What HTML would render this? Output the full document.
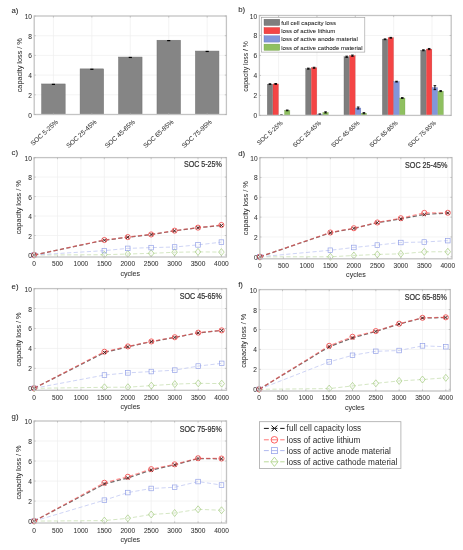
<!DOCTYPE html>
<html><head><meta charset="utf-8"><title>Capacity loss figure</title>
<style>html,body{margin:0;padding:0;background:#fff;width:463px;height:550px;overflow:hidden;}svg text{font-family:"Liberation Sans", sans-serif;stroke:currentColor;stroke-width:0.05px;}</style>
</head><body>
<svg width="463" height="550" viewBox="0 0 463 550" font-family='"Liberation Sans", sans-serif' style="display:block;filter:blur(0.3px)">
<rect width="463" height="550" fill="#ffffff"/>
<line x1="53.42" y1="16" x2="53.42" y2="114.5" stroke="#efefef" stroke-width="0.7"/>
<line x1="91.86" y1="16" x2="91.86" y2="114.5" stroke="#efefef" stroke-width="0.7"/>
<line x1="130.3" y1="16" x2="130.3" y2="114.5" stroke="#efefef" stroke-width="0.7"/>
<line x1="168.74" y1="16" x2="168.74" y2="114.5" stroke="#efefef" stroke-width="0.7"/>
<line x1="207.18" y1="16" x2="207.18" y2="114.5" stroke="#efefef" stroke-width="0.7"/>
<line x1="34.2" y1="94.8" x2="226.4" y2="94.8" stroke="#efefef" stroke-width="0.7"/>
<line x1="34.2" y1="75.1" x2="226.4" y2="75.1" stroke="#efefef" stroke-width="0.7"/>
<line x1="34.2" y1="55.4" x2="226.4" y2="55.4" stroke="#efefef" stroke-width="0.7"/>
<line x1="34.2" y1="35.7" x2="226.4" y2="35.7" stroke="#efefef" stroke-width="0.7"/>
<rect x="41.67" y="83.97" width="23.5" height="30.53" fill="#858585" stroke="#6e6e6e" stroke-width="0.5"/>
<line x1="51.82" y1="84.37" x2="55.02" y2="84.37" stroke="#000" stroke-width="1.2"/>
<rect x="80.11" y="68.89" width="23.5" height="45.61" fill="#858585" stroke="#6e6e6e" stroke-width="0.5"/>
<line x1="90.26" y1="69.29" x2="93.46" y2="69.29" stroke="#000" stroke-width="1.2"/>
<rect x="118.55" y="57.07" width="23.5" height="57.43" fill="#858585" stroke="#6e6e6e" stroke-width="0.5"/>
<line x1="128.7" y1="57.47" x2="131.9" y2="57.47" stroke="#000" stroke-width="1.2"/>
<rect x="156.99" y="40.23" width="23.5" height="74.27" fill="#858585" stroke="#6e6e6e" stroke-width="0.5"/>
<line x1="167.14" y1="40.63" x2="170.34" y2="40.63" stroke="#000" stroke-width="1.2"/>
<rect x="195.43" y="51.07" width="23.5" height="63.43" fill="#858585" stroke="#6e6e6e" stroke-width="0.5"/>
<line x1="205.58" y1="51.47" x2="208.78" y2="51.47" stroke="#000" stroke-width="1.2"/>
<rect x="34.2" y="16" width="192.2" height="98.5" fill="none" stroke="#c4c4c4" stroke-width="1.3"/>
<line x1="53.42" y1="114.5" x2="53.42" y2="112.9" stroke="#aaaaaa" stroke-width="0.6"/>
<line x1="53.42" y1="16" x2="53.42" y2="17.6" stroke="#aaaaaa" stroke-width="0.6"/>
<line x1="91.86" y1="114.5" x2="91.86" y2="112.9" stroke="#aaaaaa" stroke-width="0.6"/>
<line x1="91.86" y1="16" x2="91.86" y2="17.6" stroke="#aaaaaa" stroke-width="0.6"/>
<line x1="130.3" y1="114.5" x2="130.3" y2="112.9" stroke="#aaaaaa" stroke-width="0.6"/>
<line x1="130.3" y1="16" x2="130.3" y2="17.6" stroke="#aaaaaa" stroke-width="0.6"/>
<line x1="168.74" y1="114.5" x2="168.74" y2="112.9" stroke="#aaaaaa" stroke-width="0.6"/>
<line x1="168.74" y1="16" x2="168.74" y2="17.6" stroke="#aaaaaa" stroke-width="0.6"/>
<line x1="207.18" y1="114.5" x2="207.18" y2="112.9" stroke="#aaaaaa" stroke-width="0.6"/>
<line x1="207.18" y1="16" x2="207.18" y2="17.6" stroke="#aaaaaa" stroke-width="0.6"/>
<line x1="34.2" y1="114.5" x2="35.8" y2="114.5" stroke="#aaaaaa" stroke-width="0.6"/>
<line x1="226.4" y1="114.5" x2="224.8" y2="114.5" stroke="#aaaaaa" stroke-width="0.6"/>
<line x1="34.2" y1="94.8" x2="35.8" y2="94.8" stroke="#aaaaaa" stroke-width="0.6"/>
<line x1="226.4" y1="94.8" x2="224.8" y2="94.8" stroke="#aaaaaa" stroke-width="0.6"/>
<line x1="34.2" y1="75.1" x2="35.8" y2="75.1" stroke="#aaaaaa" stroke-width="0.6"/>
<line x1="226.4" y1="75.1" x2="224.8" y2="75.1" stroke="#aaaaaa" stroke-width="0.6"/>
<line x1="34.2" y1="55.4" x2="35.8" y2="55.4" stroke="#aaaaaa" stroke-width="0.6"/>
<line x1="226.4" y1="55.4" x2="224.8" y2="55.4" stroke="#aaaaaa" stroke-width="0.6"/>
<line x1="34.2" y1="35.7" x2="35.8" y2="35.7" stroke="#aaaaaa" stroke-width="0.6"/>
<line x1="226.4" y1="35.7" x2="224.8" y2="35.7" stroke="#aaaaaa" stroke-width="0.6"/>
<line x1="34.2" y1="16" x2="35.8" y2="16" stroke="#aaaaaa" stroke-width="0.6"/>
<line x1="226.4" y1="16" x2="224.8" y2="16" stroke="#aaaaaa" stroke-width="0.6"/>
<text x="32" y="117.5" font-size="6.6" text-anchor="end" fill="#333333" color="#333333">0</text>
<text x="32" y="97.8" font-size="6.6" text-anchor="end" fill="#333333" color="#333333">2</text>
<text x="32" y="78.1" font-size="6.6" text-anchor="end" fill="#333333" color="#333333">4</text>
<text x="32" y="58.4" font-size="6.6" text-anchor="end" fill="#333333" color="#333333">6</text>
<text x="32" y="38.7" font-size="6.6" text-anchor="end" fill="#333333" color="#333333">8</text>
<text x="32" y="19" font-size="6.6" text-anchor="end" fill="#333333" color="#333333">10</text>
<text x="0" y="0" transform="translate(58.62,122.5) rotate(-42.5)" font-size="6.5" text-anchor="end" fill="#333333" color="#333333">SOC 5-25%</text>
<text x="0" y="0" transform="translate(97.06,122.5) rotate(-42.5)" font-size="6.5" text-anchor="end" fill="#333333" color="#333333">SOC 25-45%</text>
<text x="0" y="0" transform="translate(135.5,122.5) rotate(-42.5)" font-size="6.5" text-anchor="end" fill="#333333" color="#333333">SOC 45-65%</text>
<text x="0" y="0" transform="translate(173.94,122.5) rotate(-42.5)" font-size="6.5" text-anchor="end" fill="#333333" color="#333333">SOC 65-85%</text>
<text x="0" y="0" transform="translate(212.38,122.5) rotate(-42.5)" font-size="6.5" text-anchor="end" fill="#333333" color="#333333">SOC 75-95%</text>
<text x="0" y="0" transform="translate(21.9,65.25) rotate(-90)" font-size="7.25" text-anchor="middle" fill="#333333" color="#333333">capacity loss / %</text>
<text x="11.4" y="13" font-size="7.8" fill="#222" color="#222">a)</text>
<line x1="278.58" y1="15.5" x2="278.58" y2="115.4" stroke="#efefef" stroke-width="0.7"/>
<line x1="316.94" y1="15.5" x2="316.94" y2="115.4" stroke="#efefef" stroke-width="0.7"/>
<line x1="355.3" y1="15.5" x2="355.3" y2="115.4" stroke="#efefef" stroke-width="0.7"/>
<line x1="393.66" y1="15.5" x2="393.66" y2="115.4" stroke="#efefef" stroke-width="0.7"/>
<line x1="432.02" y1="15.5" x2="432.02" y2="115.4" stroke="#efefef" stroke-width="0.7"/>
<line x1="259.4" y1="95.42" x2="451.2" y2="95.42" stroke="#efefef" stroke-width="0.7"/>
<line x1="259.4" y1="75.44" x2="451.2" y2="75.44" stroke="#efefef" stroke-width="0.7"/>
<line x1="259.4" y1="55.46" x2="451.2" y2="55.46" stroke="#efefef" stroke-width="0.7"/>
<line x1="259.4" y1="35.48" x2="451.2" y2="35.48" stroke="#efefef" stroke-width="0.7"/>
<rect x="267.26" y="84.13" width="5.39" height="31.27" fill="#7e7e7e" stroke="#606060" stroke-width="0.3"/>
<rect x="273.01" y="83.93" width="5.39" height="31.47" fill="#f44545" stroke="#c83030" stroke-width="0.3"/>
<rect x="278.76" y="115.2" width="5.39" height="0.2" fill="#8396da" stroke="#5a6ab0" stroke-width="0.3"/>
<rect x="284.51" y="110.41" width="5.39" height="5" fill="#8fc060" stroke="#6f9a45" stroke-width="0.3"/>
<path d="M269.95,83.73V84.53M268.65,83.73H271.25M268.65,84.53H271.25" stroke="#000" stroke-width="0.9" fill="none"/>
<path d="M275.7,83.53V84.33M274.4,83.53H277M274.4,84.33H277" stroke="#000" stroke-width="0.9" fill="none"/>
<path d="M281.45,114.9V115.5M280.15,114.9H282.75M280.15,115.5H282.75" stroke="#000" stroke-width="0.9" fill="none"/>
<path d="M287.2,110.01V110.8M285.9,110.01H288.5M285.9,110.8H288.5" stroke="#000" stroke-width="0.9" fill="none"/>
<rect x="305.62" y="68.65" width="5.39" height="46.75" fill="#7e7e7e" stroke="#606060" stroke-width="0.3"/>
<rect x="311.37" y="67.75" width="5.39" height="47.65" fill="#f44545" stroke="#c83030" stroke-width="0.3"/>
<rect x="317.12" y="114.4" width="5.39" height="1" fill="#8396da" stroke="#5a6ab0" stroke-width="0.3"/>
<rect x="322.87" y="112.4" width="5.39" height="3" fill="#8fc060" stroke="#6f9a45" stroke-width="0.3"/>
<path d="M308.31,68.15V69.15M307.01,68.15H309.62M307.01,69.15H309.62" stroke="#000" stroke-width="0.9" fill="none"/>
<path d="M314.06,67.25V68.25M312.76,67.25H315.37M312.76,68.25H315.37" stroke="#000" stroke-width="0.9" fill="none"/>
<path d="M319.81,113.9V114.9M318.51,113.9H321.12M318.51,114.9H321.12" stroke="#000" stroke-width="0.9" fill="none"/>
<path d="M325.56,111.8V113M324.26,111.8H326.87M324.26,113H326.87" stroke="#000" stroke-width="0.9" fill="none"/>
<rect x="343.98" y="56.76" width="5.39" height="58.64" fill="#7e7e7e" stroke="#606060" stroke-width="0.3"/>
<rect x="349.73" y="55.66" width="5.39" height="59.74" fill="#f44545" stroke="#c83030" stroke-width="0.3"/>
<rect x="355.48" y="108.01" width="5.39" height="7.39" fill="#8396da" stroke="#5a6ab0" stroke-width="0.3"/>
<rect x="361.23" y="113.2" width="5.39" height="2.2" fill="#8fc060" stroke="#6f9a45" stroke-width="0.3"/>
<path d="M346.67,56.16V57.36M345.37,56.16H347.97M345.37,57.36H347.97" stroke="#000" stroke-width="0.9" fill="none"/>
<path d="M352.42,55.06V56.26M351.12,55.06H353.72M351.12,56.26H353.72" stroke="#000" stroke-width="0.9" fill="none"/>
<path d="M358.17,107.01V109.01M356.87,107.01H359.47M356.87,109.01H359.47" stroke="#000" stroke-width="0.9" fill="none"/>
<path d="M363.92,112.6V113.8M362.62,112.6H365.22M362.62,113.8H365.22" stroke="#000" stroke-width="0.9" fill="none"/>
<rect x="382.34" y="39.28" width="5.39" height="76.12" fill="#7e7e7e" stroke="#606060" stroke-width="0.3"/>
<rect x="388.09" y="37.78" width="5.39" height="77.62" fill="#f44545" stroke="#c83030" stroke-width="0.3"/>
<rect x="393.84" y="81.63" width="5.39" height="33.77" fill="#8396da" stroke="#5a6ab0" stroke-width="0.3"/>
<rect x="399.59" y="98.02" width="5.39" height="17.38" fill="#8fc060" stroke="#6f9a45" stroke-width="0.3"/>
<path d="M385.03,38.88V39.68M383.73,38.88H386.33M383.73,39.68H386.33" stroke="#000" stroke-width="0.9" fill="none"/>
<path d="M390.78,37.38V38.18M389.48,37.38H392.08M389.48,38.18H392.08" stroke="#000" stroke-width="0.9" fill="none"/>
<path d="M396.53,81.23V82.03M395.23,81.23H397.83M395.23,82.03H397.83" stroke="#000" stroke-width="0.9" fill="none"/>
<path d="M402.28,97.62V98.42M400.98,97.62H403.58M400.98,98.42H403.58" stroke="#000" stroke-width="0.9" fill="none"/>
<rect x="420.7" y="50.27" width="5.39" height="65.13" fill="#7e7e7e" stroke="#606060" stroke-width="0.3"/>
<rect x="426.45" y="49.07" width="5.39" height="66.33" fill="#f44545" stroke="#c83030" stroke-width="0.3"/>
<rect x="432.2" y="87.63" width="5.39" height="27.77" fill="#8396da" stroke="#5a6ab0" stroke-width="0.3"/>
<rect x="437.95" y="91.12" width="5.39" height="24.28" fill="#8fc060" stroke="#6f9a45" stroke-width="0.3"/>
<path d="M423.39,49.77V50.76M422.09,49.77H424.69M422.09,50.76H424.69" stroke="#000" stroke-width="0.9" fill="none"/>
<path d="M429.14,48.47V49.67M427.84,48.47H430.44M427.84,49.67H430.44" stroke="#000" stroke-width="0.9" fill="none"/>
<path d="M434.89,85.63V89.63M433.59,85.63H436.19M433.59,89.63H436.19" stroke="#000" stroke-width="0.9" fill="none"/>
<path d="M440.64,90.62V91.62M439.34,90.62H441.94M439.34,91.62H441.94" stroke="#000" stroke-width="0.9" fill="none"/>
<rect x="259.4" y="15.5" width="191.8" height="99.9" fill="none" stroke="#c4c4c4" stroke-width="1.3"/>
<line x1="278.58" y1="115.4" x2="278.58" y2="113.8" stroke="#aaaaaa" stroke-width="0.6"/>
<line x1="278.58" y1="15.5" x2="278.58" y2="17.1" stroke="#aaaaaa" stroke-width="0.6"/>
<line x1="316.94" y1="115.4" x2="316.94" y2="113.8" stroke="#aaaaaa" stroke-width="0.6"/>
<line x1="316.94" y1="15.5" x2="316.94" y2="17.1" stroke="#aaaaaa" stroke-width="0.6"/>
<line x1="355.3" y1="115.4" x2="355.3" y2="113.8" stroke="#aaaaaa" stroke-width="0.6"/>
<line x1="355.3" y1="15.5" x2="355.3" y2="17.1" stroke="#aaaaaa" stroke-width="0.6"/>
<line x1="393.66" y1="115.4" x2="393.66" y2="113.8" stroke="#aaaaaa" stroke-width="0.6"/>
<line x1="393.66" y1="15.5" x2="393.66" y2="17.1" stroke="#aaaaaa" stroke-width="0.6"/>
<line x1="432.02" y1="115.4" x2="432.02" y2="113.8" stroke="#aaaaaa" stroke-width="0.6"/>
<line x1="432.02" y1="15.5" x2="432.02" y2="17.1" stroke="#aaaaaa" stroke-width="0.6"/>
<line x1="259.4" y1="115.4" x2="261" y2="115.4" stroke="#aaaaaa" stroke-width="0.6"/>
<line x1="451.2" y1="115.4" x2="449.6" y2="115.4" stroke="#aaaaaa" stroke-width="0.6"/>
<line x1="259.4" y1="95.42" x2="261" y2="95.42" stroke="#aaaaaa" stroke-width="0.6"/>
<line x1="451.2" y1="95.42" x2="449.6" y2="95.42" stroke="#aaaaaa" stroke-width="0.6"/>
<line x1="259.4" y1="75.44" x2="261" y2="75.44" stroke="#aaaaaa" stroke-width="0.6"/>
<line x1="451.2" y1="75.44" x2="449.6" y2="75.44" stroke="#aaaaaa" stroke-width="0.6"/>
<line x1="259.4" y1="55.46" x2="261" y2="55.46" stroke="#aaaaaa" stroke-width="0.6"/>
<line x1="451.2" y1="55.46" x2="449.6" y2="55.46" stroke="#aaaaaa" stroke-width="0.6"/>
<line x1="259.4" y1="35.48" x2="261" y2="35.48" stroke="#aaaaaa" stroke-width="0.6"/>
<line x1="451.2" y1="35.48" x2="449.6" y2="35.48" stroke="#aaaaaa" stroke-width="0.6"/>
<line x1="259.4" y1="15.5" x2="261" y2="15.5" stroke="#aaaaaa" stroke-width="0.6"/>
<line x1="451.2" y1="15.5" x2="449.6" y2="15.5" stroke="#aaaaaa" stroke-width="0.6"/>
<text x="257.2" y="118.4" font-size="6.6" text-anchor="end" fill="#333333" color="#333333">0</text>
<text x="257.2" y="98.42" font-size="6.6" text-anchor="end" fill="#333333" color="#333333">2</text>
<text x="257.2" y="78.44" font-size="6.6" text-anchor="end" fill="#333333" color="#333333">4</text>
<text x="257.2" y="58.46" font-size="6.6" text-anchor="end" fill="#333333" color="#333333">6</text>
<text x="257.2" y="38.48" font-size="6.6" text-anchor="end" fill="#333333" color="#333333">8</text>
<text x="257.2" y="18.5" font-size="6.6" text-anchor="end" fill="#333333" color="#333333">10</text>
<text x="0" y="0" transform="translate(283.18,123.4) rotate(-42.5)" font-size="6.1" text-anchor="end" fill="#333333" color="#333333">SOC 5-25%</text>
<text x="0" y="0" transform="translate(321.54,123.4) rotate(-42.5)" font-size="6.1" text-anchor="end" fill="#333333" color="#333333">SOC 25-45%</text>
<text x="0" y="0" transform="translate(359.9,123.4) rotate(-42.5)" font-size="6.1" text-anchor="end" fill="#333333" color="#333333">SOC 45-65%</text>
<text x="0" y="0" transform="translate(398.26,123.4) rotate(-42.5)" font-size="6.1" text-anchor="end" fill="#333333" color="#333333">SOC 65-85%</text>
<text x="0" y="0" transform="translate(436.62,123.4) rotate(-42.5)" font-size="6.1" text-anchor="end" fill="#333333" color="#333333">SOC 75-95%</text>
<text x="0" y="0" transform="translate(247.6,66.55) rotate(-90)" font-size="6.8" text-anchor="middle" fill="#333333" color="#333333">capacity loss / %</text>
<text x="238.2" y="12" font-size="7.8" fill="#222" color="#222">b)</text>
<rect x="261.4" y="17.5" width="103.4" height="34.6" fill="#fff" stroke="#9a9a9a" stroke-width="0.6"/>
<rect x="264" y="19.2" width="15.8" height="6.3" fill="#7e7e7e" stroke="#606060" stroke-width="0.35"/>
<text x="281.2" y="24.6" font-size="6.06" fill="#222" color="#222">full cell capacity loss</text>
<rect x="264" y="27.5" width="15.8" height="6.3" fill="#f44545" stroke="#c83030" stroke-width="0.35"/>
<text x="281.2" y="32.9" font-size="6.06" fill="#222" color="#222">loss of active lithium</text>
<rect x="264" y="35.8" width="15.8" height="6.3" fill="#8396da" stroke="#5a6ab0" stroke-width="0.35"/>
<text x="281.2" y="41.2" font-size="6.06" fill="#222" color="#222">loss of active anode material</text>
<rect x="264" y="44.1" width="15.8" height="6.3" fill="#8fc060" stroke="#6f9a45" stroke-width="0.35"/>
<text x="281.2" y="49.5" font-size="6.06" fill="#222" color="#222">loss of active cathode material</text>
<line x1="57.51" y1="157.6" x2="57.51" y2="257" stroke="#efefef" stroke-width="0.7"/>
<line x1="80.93" y1="157.6" x2="80.93" y2="257" stroke="#efefef" stroke-width="0.7"/>
<line x1="104.34" y1="157.6" x2="104.34" y2="257" stroke="#efefef" stroke-width="0.7"/>
<line x1="127.75" y1="157.6" x2="127.75" y2="257" stroke="#efefef" stroke-width="0.7"/>
<line x1="151.16" y1="157.6" x2="151.16" y2="257" stroke="#efefef" stroke-width="0.7"/>
<line x1="174.58" y1="157.6" x2="174.58" y2="257" stroke="#efefef" stroke-width="0.7"/>
<line x1="197.99" y1="157.6" x2="197.99" y2="257" stroke="#efefef" stroke-width="0.7"/>
<line x1="221.4" y1="157.6" x2="221.4" y2="257" stroke="#efefef" stroke-width="0.7"/>
<line x1="34.1" y1="235.52" x2="226.4" y2="235.52" stroke="#efefef" stroke-width="0.7"/>
<line x1="34.1" y1="216.04" x2="226.4" y2="216.04" stroke="#efefef" stroke-width="0.7"/>
<line x1="34.1" y1="196.56" x2="226.4" y2="196.56" stroke="#efefef" stroke-width="0.7"/>
<line x1="34.1" y1="177.08" x2="226.4" y2="177.08" stroke="#efefef" stroke-width="0.7"/>
<polyline points="34.1,255 104.34,254.71 127.75,254.03 151.16,253.34 174.58,252.27 197.99,251.88 221.4,252.08" fill="none" stroke="#bcd9a2" stroke-width="0.65" stroke-dasharray="4.2 2.4" stroke-opacity="1.0"/>
<polyline points="34.1,255 104.34,250.62 127.75,248.38 151.16,247.6 174.58,247.01 197.99,244.87 221.4,242.14" fill="none" stroke="#b4bdf0" stroke-width="0.65" stroke-dasharray="4.2 2.4" stroke-opacity="1.0"/>
<polyline points="34.1,255 104.34,240.2 127.75,237.27 151.16,234.55 174.58,230.84 197.99,227.73 221.4,225.49" fill="none" stroke="#333" stroke-width="1.25" stroke-dasharray="4.2 2.4" stroke-opacity="0.72"/>
<polyline points="34.1,255 104.34,240 127.75,237.08 151.16,234.45 174.58,230.65 197.99,227.63 221.4,225" fill="none" stroke="#ff5050" stroke-width="1.25" stroke-dasharray="4.2 2.4" stroke-opacity="0.6"/>
<path d="M34.1,251.5L36.9,255L34.1,258.5L31.3,255Z" stroke="#9cc874" stroke-width="0.65" fill="none"/>
<path d="M104.34,251.21L107.14,254.71L104.34,258.21L101.54,254.71Z" stroke="#9cc874" stroke-width="0.65" fill="none"/>
<path d="M127.75,250.53L130.55,254.03L127.75,257.53L124.95,254.03Z" stroke="#9cc874" stroke-width="0.65" fill="none"/>
<path d="M151.16,249.84L153.96,253.34L151.16,256.84L148.36,253.34Z" stroke="#9cc874" stroke-width="0.65" fill="none"/>
<path d="M174.58,248.77L177.38,252.27L174.58,255.77L171.78,252.27Z" stroke="#9cc874" stroke-width="0.65" fill="none"/>
<path d="M197.99,248.38L200.79,251.88L197.99,255.38L195.19,251.88Z" stroke="#9cc874" stroke-width="0.65" fill="none"/>
<path d="M221.4,248.58L224.2,252.08L221.4,255.58L218.6,252.08Z" stroke="#9cc874" stroke-width="0.65" fill="none"/>
<rect x="31.8" y="252.7" width="4.6" height="4.6" stroke="#8e9ce6" stroke-width="0.65" fill="none"/>
<rect x="102.04" y="248.32" width="4.6" height="4.6" stroke="#8e9ce6" stroke-width="0.65" fill="none"/>
<rect x="125.45" y="246.08" width="4.6" height="4.6" stroke="#8e9ce6" stroke-width="0.65" fill="none"/>
<rect x="148.86" y="245.3" width="4.6" height="4.6" stroke="#8e9ce6" stroke-width="0.65" fill="none"/>
<rect x="172.28" y="244.71" width="4.6" height="4.6" stroke="#8e9ce6" stroke-width="0.65" fill="none"/>
<rect x="195.69" y="242.57" width="4.6" height="4.6" stroke="#8e9ce6" stroke-width="0.65" fill="none"/>
<rect x="219.1" y="239.84" width="4.6" height="4.6" stroke="#8e9ce6" stroke-width="0.65" fill="none"/>
<circle cx="34.1" cy="255" r="2.55" stroke="#f25a5a" stroke-width="0.95" fill="none"/>
<circle cx="104.34" cy="240" r="2.55" stroke="#f25a5a" stroke-width="0.95" fill="none"/>
<circle cx="127.75" cy="237.08" r="2.55" stroke="#f25a5a" stroke-width="0.95" fill="none"/>
<circle cx="151.16" cy="234.45" r="2.55" stroke="#f25a5a" stroke-width="0.95" fill="none"/>
<circle cx="174.58" cy="230.65" r="2.55" stroke="#f25a5a" stroke-width="0.95" fill="none"/>
<circle cx="197.99" cy="227.63" r="2.55" stroke="#f25a5a" stroke-width="0.95" fill="none"/>
<circle cx="221.4" cy="225" r="2.55" stroke="#f25a5a" stroke-width="0.95" fill="none"/>
<path d="M32.55,253.45L35.65,256.55M32.55,256.55L35.65,253.45" stroke="#4a1c1c" stroke-width="0.95" fill="none"/>
<path d="M102.79,238.65L105.89,241.75M102.79,241.75L105.89,238.65" stroke="#4a1c1c" stroke-width="0.95" fill="none"/>
<path d="M126.2,235.72L129.3,238.82M126.2,238.82L129.3,235.72" stroke="#4a1c1c" stroke-width="0.95" fill="none"/>
<path d="M149.61,233L152.71,236.1M149.61,236.1L152.71,233" stroke="#4a1c1c" stroke-width="0.95" fill="none"/>
<path d="M173.03,229.29L176.13,232.39M173.03,232.39L176.13,229.29" stroke="#4a1c1c" stroke-width="0.95" fill="none"/>
<path d="M196.44,226.18L199.54,229.28M196.44,229.28L199.54,226.18" stroke="#4a1c1c" stroke-width="0.95" fill="none"/>
<path d="M219.85,223.94L222.95,227.04M219.85,227.04L222.95,223.94" stroke="#4a1c1c" stroke-width="0.95" fill="none"/>
<rect x="34.1" y="157.6" width="192.3" height="99.4" fill="none" stroke="#c4c4c4" stroke-width="1.3"/>
<line x1="34.1" y1="257" x2="34.1" y2="255.4" stroke="#aaaaaa" stroke-width="0.6"/>
<line x1="34.1" y1="157.6" x2="34.1" y2="159.2" stroke="#aaaaaa" stroke-width="0.6"/>
<line x1="57.51" y1="257" x2="57.51" y2="255.4" stroke="#aaaaaa" stroke-width="0.6"/>
<line x1="57.51" y1="157.6" x2="57.51" y2="159.2" stroke="#aaaaaa" stroke-width="0.6"/>
<line x1="80.93" y1="257" x2="80.93" y2="255.4" stroke="#aaaaaa" stroke-width="0.6"/>
<line x1="80.93" y1="157.6" x2="80.93" y2="159.2" stroke="#aaaaaa" stroke-width="0.6"/>
<line x1="104.34" y1="257" x2="104.34" y2="255.4" stroke="#aaaaaa" stroke-width="0.6"/>
<line x1="104.34" y1="157.6" x2="104.34" y2="159.2" stroke="#aaaaaa" stroke-width="0.6"/>
<line x1="127.75" y1="257" x2="127.75" y2="255.4" stroke="#aaaaaa" stroke-width="0.6"/>
<line x1="127.75" y1="157.6" x2="127.75" y2="159.2" stroke="#aaaaaa" stroke-width="0.6"/>
<line x1="151.16" y1="257" x2="151.16" y2="255.4" stroke="#aaaaaa" stroke-width="0.6"/>
<line x1="151.16" y1="157.6" x2="151.16" y2="159.2" stroke="#aaaaaa" stroke-width="0.6"/>
<line x1="174.58" y1="257" x2="174.58" y2="255.4" stroke="#aaaaaa" stroke-width="0.6"/>
<line x1="174.58" y1="157.6" x2="174.58" y2="159.2" stroke="#aaaaaa" stroke-width="0.6"/>
<line x1="197.99" y1="257" x2="197.99" y2="255.4" stroke="#aaaaaa" stroke-width="0.6"/>
<line x1="197.99" y1="157.6" x2="197.99" y2="159.2" stroke="#aaaaaa" stroke-width="0.6"/>
<line x1="221.4" y1="257" x2="221.4" y2="255.4" stroke="#aaaaaa" stroke-width="0.6"/>
<line x1="221.4" y1="157.6" x2="221.4" y2="159.2" stroke="#aaaaaa" stroke-width="0.6"/>
<line x1="34.1" y1="255" x2="35.7" y2="255" stroke="#aaaaaa" stroke-width="0.6"/>
<line x1="226.4" y1="255" x2="224.8" y2="255" stroke="#aaaaaa" stroke-width="0.6"/>
<line x1="34.1" y1="235.52" x2="35.7" y2="235.52" stroke="#aaaaaa" stroke-width="0.6"/>
<line x1="226.4" y1="235.52" x2="224.8" y2="235.52" stroke="#aaaaaa" stroke-width="0.6"/>
<line x1="34.1" y1="216.04" x2="35.7" y2="216.04" stroke="#aaaaaa" stroke-width="0.6"/>
<line x1="226.4" y1="216.04" x2="224.8" y2="216.04" stroke="#aaaaaa" stroke-width="0.6"/>
<line x1="34.1" y1="196.56" x2="35.7" y2="196.56" stroke="#aaaaaa" stroke-width="0.6"/>
<line x1="226.4" y1="196.56" x2="224.8" y2="196.56" stroke="#aaaaaa" stroke-width="0.6"/>
<line x1="34.1" y1="177.08" x2="35.7" y2="177.08" stroke="#aaaaaa" stroke-width="0.6"/>
<line x1="226.4" y1="177.08" x2="224.8" y2="177.08" stroke="#aaaaaa" stroke-width="0.6"/>
<line x1="34.1" y1="157.6" x2="35.7" y2="157.6" stroke="#aaaaaa" stroke-width="0.6"/>
<line x1="226.4" y1="157.6" x2="224.8" y2="157.6" stroke="#aaaaaa" stroke-width="0.6"/>
<text x="31.9" y="258" font-size="6.6" text-anchor="end" fill="#333333" color="#333333">0</text>
<text x="31.9" y="238.52" font-size="6.6" text-anchor="end" fill="#333333" color="#333333">2</text>
<text x="31.9" y="219.04" font-size="6.6" text-anchor="end" fill="#333333" color="#333333">4</text>
<text x="31.9" y="199.56" font-size="6.6" text-anchor="end" fill="#333333" color="#333333">6</text>
<text x="31.9" y="180.08" font-size="6.6" text-anchor="end" fill="#333333" color="#333333">8</text>
<text x="31.9" y="160.6" font-size="6.6" text-anchor="end" fill="#333333" color="#333333">10</text>
<text x="34.1" y="266.45" font-size="6.6" text-anchor="middle" fill="#333333" color="#333333">0</text>
<text x="57.51" y="266.45" font-size="6.6" text-anchor="middle" fill="#333333" color="#333333">500</text>
<text x="80.93" y="266.45" font-size="6.6" text-anchor="middle" fill="#333333" color="#333333">1000</text>
<text x="104.34" y="266.45" font-size="6.6" text-anchor="middle" fill="#333333" color="#333333">1500</text>
<text x="127.75" y="266.45" font-size="6.6" text-anchor="middle" fill="#333333" color="#333333">2000</text>
<text x="151.16" y="266.45" font-size="6.6" text-anchor="middle" fill="#333333" color="#333333">2500</text>
<text x="174.58" y="266.45" font-size="6.6" text-anchor="middle" fill="#333333" color="#333333">3000</text>
<text x="197.99" y="266.45" font-size="6.6" text-anchor="middle" fill="#333333" color="#333333">3500</text>
<text x="221.4" y="266.45" font-size="6.6" text-anchor="middle" fill="#333333" color="#333333">4000</text>
<text x="130.25" y="275.6" font-size="7.1" text-anchor="middle" fill="#333333" color="#333333">cycles</text>
<text x="0" y="0" transform="translate(21.1,207.3) rotate(-90)" font-size="7.25" text-anchor="middle" fill="#333333" color="#333333">capacity loss / %</text>
<text x="184" y="166.9" font-size="8.7" fill="#333" style="stroke:#333;stroke-width:0.22px" textLength="37.8" lengthAdjust="spacingAndGlyphs">SOC 5-25%</text>
<line x1="283.39" y1="157.6" x2="283.39" y2="258.8" stroke="#efefef" stroke-width="0.7"/>
<line x1="306.88" y1="157.6" x2="306.88" y2="258.8" stroke="#efefef" stroke-width="0.7"/>
<line x1="330.36" y1="157.6" x2="330.36" y2="258.8" stroke="#efefef" stroke-width="0.7"/>
<line x1="353.85" y1="157.6" x2="353.85" y2="258.8" stroke="#efefef" stroke-width="0.7"/>
<line x1="377.34" y1="157.6" x2="377.34" y2="258.8" stroke="#efefef" stroke-width="0.7"/>
<line x1="400.83" y1="157.6" x2="400.83" y2="258.8" stroke="#efefef" stroke-width="0.7"/>
<line x1="424.31" y1="157.6" x2="424.31" y2="258.8" stroke="#efefef" stroke-width="0.7"/>
<line x1="447.8" y1="157.6" x2="447.8" y2="258.8" stroke="#efefef" stroke-width="0.7"/>
<line x1="259.9" y1="236.96" x2="452" y2="236.96" stroke="#efefef" stroke-width="0.7"/>
<line x1="259.9" y1="217.12" x2="452" y2="217.12" stroke="#efefef" stroke-width="0.7"/>
<line x1="259.9" y1="197.28" x2="452" y2="197.28" stroke="#efefef" stroke-width="0.7"/>
<line x1="259.9" y1="177.44" x2="452" y2="177.44" stroke="#efefef" stroke-width="0.7"/>
<polyline points="259.9,256.8 330.36,256.8 353.85,255.51 377.34,254.42 400.83,253.82 424.31,251.84 447.8,251.74" fill="none" stroke="#bcd9a2" stroke-width="0.65" stroke-dasharray="4.2 2.4" stroke-opacity="1.0"/>
<polyline points="259.9,256.8 330.36,250.25 353.85,247.48 377.34,245.09 400.83,242.52 424.31,242.02 447.8,240.63" fill="none" stroke="#b4bdf0" stroke-width="0.65" stroke-dasharray="4.2 2.4" stroke-opacity="1.0"/>
<polyline points="259.9,256.8 330.36,232.79 353.85,228.43 377.34,222.68 400.83,218.91 424.31,214.54 447.8,212.95" fill="none" stroke="#333" stroke-width="1.25" stroke-dasharray="4.2 2.4" stroke-opacity="0.72"/>
<polyline points="259.9,256.8 330.36,232.5 353.85,228.23 377.34,222.48 400.83,218.21 424.31,212.85 447.8,212.76" fill="none" stroke="#ff5050" stroke-width="1.25" stroke-dasharray="4.2 2.4" stroke-opacity="0.6"/>
<path d="M259.9,253.3L262.7,256.8L259.9,260.3L257.1,256.8Z" stroke="#9cc874" stroke-width="0.65" fill="none"/>
<path d="M330.36,253.3L333.16,256.8L330.36,260.3L327.56,256.8Z" stroke="#9cc874" stroke-width="0.65" fill="none"/>
<path d="M353.85,252.01L356.65,255.51L353.85,259.01L351.05,255.51Z" stroke="#9cc874" stroke-width="0.65" fill="none"/>
<path d="M377.34,250.92L380.14,254.42L377.34,257.92L374.54,254.42Z" stroke="#9cc874" stroke-width="0.65" fill="none"/>
<path d="M400.83,250.32L403.63,253.82L400.83,257.32L398.03,253.82Z" stroke="#9cc874" stroke-width="0.65" fill="none"/>
<path d="M424.31,248.34L427.11,251.84L424.31,255.34L421.51,251.84Z" stroke="#9cc874" stroke-width="0.65" fill="none"/>
<path d="M447.8,248.24L450.6,251.74L447.8,255.24L445,251.74Z" stroke="#9cc874" stroke-width="0.65" fill="none"/>
<rect x="257.6" y="254.5" width="4.6" height="4.6" stroke="#8e9ce6" stroke-width="0.65" fill="none"/>
<rect x="328.06" y="247.95" width="4.6" height="4.6" stroke="#8e9ce6" stroke-width="0.65" fill="none"/>
<rect x="351.55" y="245.18" width="4.6" height="4.6" stroke="#8e9ce6" stroke-width="0.65" fill="none"/>
<rect x="375.04" y="242.79" width="4.6" height="4.6" stroke="#8e9ce6" stroke-width="0.65" fill="none"/>
<rect x="398.53" y="240.22" width="4.6" height="4.6" stroke="#8e9ce6" stroke-width="0.65" fill="none"/>
<rect x="422.01" y="239.72" width="4.6" height="4.6" stroke="#8e9ce6" stroke-width="0.65" fill="none"/>
<rect x="445.5" y="238.33" width="4.6" height="4.6" stroke="#8e9ce6" stroke-width="0.65" fill="none"/>
<circle cx="259.9" cy="256.8" r="2.55" stroke="#f25a5a" stroke-width="0.95" fill="none"/>
<circle cx="330.36" cy="232.5" r="2.55" stroke="#f25a5a" stroke-width="0.95" fill="none"/>
<circle cx="353.85" cy="228.23" r="2.55" stroke="#f25a5a" stroke-width="0.95" fill="none"/>
<circle cx="377.34" cy="222.48" r="2.55" stroke="#f25a5a" stroke-width="0.95" fill="none"/>
<circle cx="400.83" cy="218.21" r="2.55" stroke="#f25a5a" stroke-width="0.95" fill="none"/>
<circle cx="424.31" cy="212.85" r="2.55" stroke="#f25a5a" stroke-width="0.95" fill="none"/>
<circle cx="447.8" cy="212.76" r="2.55" stroke="#f25a5a" stroke-width="0.95" fill="none"/>
<path d="M258.35,255.25L261.45,258.35M258.35,258.35L261.45,255.25" stroke="#4a1c1c" stroke-width="0.95" fill="none"/>
<path d="M328.81,231.24L331.91,234.34M328.81,234.34L331.91,231.24" stroke="#4a1c1c" stroke-width="0.95" fill="none"/>
<path d="M352.3,226.88L355.4,229.98M352.3,229.98L355.4,226.88" stroke="#4a1c1c" stroke-width="0.95" fill="none"/>
<path d="M375.79,221.13L378.89,224.23M375.79,224.23L378.89,221.13" stroke="#4a1c1c" stroke-width="0.95" fill="none"/>
<path d="M399.28,217.36L402.38,220.46M399.28,220.46L402.38,217.36" stroke="#4a1c1c" stroke-width="0.95" fill="none"/>
<path d="M422.76,212.99L425.86,216.09M422.76,216.09L425.86,212.99" stroke="#4a1c1c" stroke-width="0.95" fill="none"/>
<path d="M446.25,211.4L449.35,214.5M446.25,214.5L449.35,211.4" stroke="#4a1c1c" stroke-width="0.95" fill="none"/>
<rect x="259.9" y="157.6" width="192.1" height="101.2" fill="none" stroke="#c4c4c4" stroke-width="1.3"/>
<line x1="259.9" y1="258.8" x2="259.9" y2="257.2" stroke="#aaaaaa" stroke-width="0.6"/>
<line x1="259.9" y1="157.6" x2="259.9" y2="159.2" stroke="#aaaaaa" stroke-width="0.6"/>
<line x1="283.39" y1="258.8" x2="283.39" y2="257.2" stroke="#aaaaaa" stroke-width="0.6"/>
<line x1="283.39" y1="157.6" x2="283.39" y2="159.2" stroke="#aaaaaa" stroke-width="0.6"/>
<line x1="306.88" y1="258.8" x2="306.88" y2="257.2" stroke="#aaaaaa" stroke-width="0.6"/>
<line x1="306.88" y1="157.6" x2="306.88" y2="159.2" stroke="#aaaaaa" stroke-width="0.6"/>
<line x1="330.36" y1="258.8" x2="330.36" y2="257.2" stroke="#aaaaaa" stroke-width="0.6"/>
<line x1="330.36" y1="157.6" x2="330.36" y2="159.2" stroke="#aaaaaa" stroke-width="0.6"/>
<line x1="353.85" y1="258.8" x2="353.85" y2="257.2" stroke="#aaaaaa" stroke-width="0.6"/>
<line x1="353.85" y1="157.6" x2="353.85" y2="159.2" stroke="#aaaaaa" stroke-width="0.6"/>
<line x1="377.34" y1="258.8" x2="377.34" y2="257.2" stroke="#aaaaaa" stroke-width="0.6"/>
<line x1="377.34" y1="157.6" x2="377.34" y2="159.2" stroke="#aaaaaa" stroke-width="0.6"/>
<line x1="400.83" y1="258.8" x2="400.83" y2="257.2" stroke="#aaaaaa" stroke-width="0.6"/>
<line x1="400.83" y1="157.6" x2="400.83" y2="159.2" stroke="#aaaaaa" stroke-width="0.6"/>
<line x1="424.31" y1="258.8" x2="424.31" y2="257.2" stroke="#aaaaaa" stroke-width="0.6"/>
<line x1="424.31" y1="157.6" x2="424.31" y2="159.2" stroke="#aaaaaa" stroke-width="0.6"/>
<line x1="447.8" y1="258.8" x2="447.8" y2="257.2" stroke="#aaaaaa" stroke-width="0.6"/>
<line x1="447.8" y1="157.6" x2="447.8" y2="159.2" stroke="#aaaaaa" stroke-width="0.6"/>
<line x1="259.9" y1="256.8" x2="261.5" y2="256.8" stroke="#aaaaaa" stroke-width="0.6"/>
<line x1="452" y1="256.8" x2="450.4" y2="256.8" stroke="#aaaaaa" stroke-width="0.6"/>
<line x1="259.9" y1="236.96" x2="261.5" y2="236.96" stroke="#aaaaaa" stroke-width="0.6"/>
<line x1="452" y1="236.96" x2="450.4" y2="236.96" stroke="#aaaaaa" stroke-width="0.6"/>
<line x1="259.9" y1="217.12" x2="261.5" y2="217.12" stroke="#aaaaaa" stroke-width="0.6"/>
<line x1="452" y1="217.12" x2="450.4" y2="217.12" stroke="#aaaaaa" stroke-width="0.6"/>
<line x1="259.9" y1="197.28" x2="261.5" y2="197.28" stroke="#aaaaaa" stroke-width="0.6"/>
<line x1="452" y1="197.28" x2="450.4" y2="197.28" stroke="#aaaaaa" stroke-width="0.6"/>
<line x1="259.9" y1="177.44" x2="261.5" y2="177.44" stroke="#aaaaaa" stroke-width="0.6"/>
<line x1="452" y1="177.44" x2="450.4" y2="177.44" stroke="#aaaaaa" stroke-width="0.6"/>
<line x1="259.9" y1="157.6" x2="261.5" y2="157.6" stroke="#aaaaaa" stroke-width="0.6"/>
<line x1="452" y1="157.6" x2="450.4" y2="157.6" stroke="#aaaaaa" stroke-width="0.6"/>
<text x="257.7" y="259.8" font-size="6.6" text-anchor="end" fill="#333333" color="#333333">0</text>
<text x="257.7" y="239.96" font-size="6.6" text-anchor="end" fill="#333333" color="#333333">2</text>
<text x="257.7" y="220.12" font-size="6.6" text-anchor="end" fill="#333333" color="#333333">4</text>
<text x="257.7" y="200.28" font-size="6.6" text-anchor="end" fill="#333333" color="#333333">6</text>
<text x="257.7" y="180.44" font-size="6.6" text-anchor="end" fill="#333333" color="#333333">8</text>
<text x="257.7" y="160.6" font-size="6.6" text-anchor="end" fill="#333333" color="#333333">10</text>
<text x="259.9" y="268.25" font-size="6.6" text-anchor="middle" fill="#333333" color="#333333">0</text>
<text x="283.39" y="268.25" font-size="6.6" text-anchor="middle" fill="#333333" color="#333333">500</text>
<text x="306.88" y="268.25" font-size="6.6" text-anchor="middle" fill="#333333" color="#333333">1000</text>
<text x="330.36" y="268.25" font-size="6.6" text-anchor="middle" fill="#333333" color="#333333">1500</text>
<text x="353.85" y="268.25" font-size="6.6" text-anchor="middle" fill="#333333" color="#333333">2000</text>
<text x="377.34" y="268.25" font-size="6.6" text-anchor="middle" fill="#333333" color="#333333">2500</text>
<text x="400.83" y="268.25" font-size="6.6" text-anchor="middle" fill="#333333" color="#333333">3000</text>
<text x="424.31" y="268.25" font-size="6.6" text-anchor="middle" fill="#333333" color="#333333">3500</text>
<text x="447.8" y="268.25" font-size="6.6" text-anchor="middle" fill="#333333" color="#333333">4000</text>
<text x="355.95" y="277.4" font-size="7.1" text-anchor="middle" fill="#333333" color="#333333">cycles</text>
<text x="0" y="0" transform="translate(248.3,208.2) rotate(-90)" font-size="7.25" text-anchor="middle" fill="#333333" color="#333333">capacity loss / %</text>
<text x="405" y="168.2" font-size="8.7" fill="#333" style="stroke:#333;stroke-width:0.22px" textLength="42.4" lengthAdjust="spacingAndGlyphs">SOC 25-45%</text>
<line x1="57.55" y1="288.6" x2="57.55" y2="390.3" stroke="#efefef" stroke-width="0.7"/>
<line x1="81" y1="288.6" x2="81" y2="390.3" stroke="#efefef" stroke-width="0.7"/>
<line x1="104.45" y1="288.6" x2="104.45" y2="390.3" stroke="#efefef" stroke-width="0.7"/>
<line x1="127.9" y1="288.6" x2="127.9" y2="390.3" stroke="#efefef" stroke-width="0.7"/>
<line x1="151.35" y1="288.6" x2="151.35" y2="390.3" stroke="#efefef" stroke-width="0.7"/>
<line x1="174.8" y1="288.6" x2="174.8" y2="390.3" stroke="#efefef" stroke-width="0.7"/>
<line x1="198.25" y1="288.6" x2="198.25" y2="390.3" stroke="#efefef" stroke-width="0.7"/>
<line x1="221.7" y1="288.6" x2="221.7" y2="390.3" stroke="#efefef" stroke-width="0.7"/>
<line x1="34.1" y1="368.36" x2="226.5" y2="368.36" stroke="#efefef" stroke-width="0.7"/>
<line x1="34.1" y1="348.42" x2="226.5" y2="348.42" stroke="#efefef" stroke-width="0.7"/>
<line x1="34.1" y1="328.48" x2="226.5" y2="328.48" stroke="#efefef" stroke-width="0.7"/>
<line x1="34.1" y1="308.54" x2="226.5" y2="308.54" stroke="#efefef" stroke-width="0.7"/>
<polyline points="34.1,388.3 104.45,387.3 127.9,387.2 151.35,385.61 174.8,384.11 198.25,383.31 221.7,383.61" fill="none" stroke="#bcd9a2" stroke-width="0.65" stroke-dasharray="4.2 2.4" stroke-opacity="1.0"/>
<polyline points="34.1,388.3 104.45,375.04 127.9,372.85 151.35,371.55 174.8,370.15 198.25,366.07 221.7,363.38" fill="none" stroke="#b4bdf0" stroke-width="0.65" stroke-dasharray="4.2 2.4" stroke-opacity="1.0"/>
<polyline points="34.1,388.3 104.45,352.51 127.9,346.73 151.35,341.64 174.8,337.45 198.25,332.87 221.7,330.47" fill="none" stroke="#333" stroke-width="1.25" stroke-dasharray="4.2 2.4" stroke-opacity="0.72"/>
<polyline points="34.1,388.3 104.45,351.71 127.9,346.43 151.35,341.44 174.8,337.25 198.25,332.67 221.7,330.37" fill="none" stroke="#ff5050" stroke-width="1.25" stroke-dasharray="4.2 2.4" stroke-opacity="0.6"/>
<path d="M34.1,384.8L36.9,388.3L34.1,391.8L31.3,388.3Z" stroke="#9cc874" stroke-width="0.65" fill="none"/>
<path d="M104.45,383.8L107.25,387.3L104.45,390.8L101.65,387.3Z" stroke="#9cc874" stroke-width="0.65" fill="none"/>
<path d="M127.9,383.7L130.7,387.2L127.9,390.7L125.1,387.2Z" stroke="#9cc874" stroke-width="0.65" fill="none"/>
<path d="M151.35,382.11L154.15,385.61L151.35,389.11L148.55,385.61Z" stroke="#9cc874" stroke-width="0.65" fill="none"/>
<path d="M174.8,380.61L177.6,384.11L174.8,387.61L172,384.11Z" stroke="#9cc874" stroke-width="0.65" fill="none"/>
<path d="M198.25,379.81L201.05,383.31L198.25,386.81L195.45,383.31Z" stroke="#9cc874" stroke-width="0.65" fill="none"/>
<path d="M221.7,380.11L224.5,383.61L221.7,387.11L218.9,383.61Z" stroke="#9cc874" stroke-width="0.65" fill="none"/>
<rect x="31.8" y="386" width="4.6" height="4.6" stroke="#8e9ce6" stroke-width="0.65" fill="none"/>
<rect x="102.15" y="372.74" width="4.6" height="4.6" stroke="#8e9ce6" stroke-width="0.65" fill="none"/>
<rect x="125.6" y="370.55" width="4.6" height="4.6" stroke="#8e9ce6" stroke-width="0.65" fill="none"/>
<rect x="149.05" y="369.25" width="4.6" height="4.6" stroke="#8e9ce6" stroke-width="0.65" fill="none"/>
<rect x="172.5" y="367.85" width="4.6" height="4.6" stroke="#8e9ce6" stroke-width="0.65" fill="none"/>
<rect x="195.95" y="363.77" width="4.6" height="4.6" stroke="#8e9ce6" stroke-width="0.65" fill="none"/>
<rect x="219.4" y="361.07" width="4.6" height="4.6" stroke="#8e9ce6" stroke-width="0.65" fill="none"/>
<circle cx="34.1" cy="388.3" r="2.55" stroke="#f25a5a" stroke-width="0.95" fill="none"/>
<circle cx="104.45" cy="351.71" r="2.55" stroke="#f25a5a" stroke-width="0.95" fill="none"/>
<circle cx="127.9" cy="346.43" r="2.55" stroke="#f25a5a" stroke-width="0.95" fill="none"/>
<circle cx="151.35" cy="341.44" r="2.55" stroke="#f25a5a" stroke-width="0.95" fill="none"/>
<circle cx="174.8" cy="337.25" r="2.55" stroke="#f25a5a" stroke-width="0.95" fill="none"/>
<circle cx="198.25" cy="332.67" r="2.55" stroke="#f25a5a" stroke-width="0.95" fill="none"/>
<circle cx="221.7" cy="330.37" r="2.55" stroke="#f25a5a" stroke-width="0.95" fill="none"/>
<path d="M32.55,386.75L35.65,389.85M32.55,389.85L35.65,386.75" stroke="#4a1c1c" stroke-width="0.95" fill="none"/>
<path d="M102.9,350.96L106,354.06M102.9,354.06L106,350.96" stroke="#4a1c1c" stroke-width="0.95" fill="none"/>
<path d="M126.35,345.18L129.45,348.28M126.35,348.28L129.45,345.18" stroke="#4a1c1c" stroke-width="0.95" fill="none"/>
<path d="M149.8,340.09L152.9,343.19M149.8,343.19L152.9,340.09" stroke="#4a1c1c" stroke-width="0.95" fill="none"/>
<path d="M173.25,335.9L176.35,339M173.25,339L176.35,335.9" stroke="#4a1c1c" stroke-width="0.95" fill="none"/>
<path d="M196.7,331.32L199.8,334.42M196.7,334.42L199.8,331.32" stroke="#4a1c1c" stroke-width="0.95" fill="none"/>
<path d="M220.15,328.92L223.25,332.02M220.15,332.02L223.25,328.92" stroke="#4a1c1c" stroke-width="0.95" fill="none"/>
<rect x="34.1" y="288.6" width="192.4" height="101.7" fill="none" stroke="#c4c4c4" stroke-width="1.3"/>
<line x1="34.1" y1="390.3" x2="34.1" y2="388.7" stroke="#aaaaaa" stroke-width="0.6"/>
<line x1="34.1" y1="288.6" x2="34.1" y2="290.2" stroke="#aaaaaa" stroke-width="0.6"/>
<line x1="57.55" y1="390.3" x2="57.55" y2="388.7" stroke="#aaaaaa" stroke-width="0.6"/>
<line x1="57.55" y1="288.6" x2="57.55" y2="290.2" stroke="#aaaaaa" stroke-width="0.6"/>
<line x1="81" y1="390.3" x2="81" y2="388.7" stroke="#aaaaaa" stroke-width="0.6"/>
<line x1="81" y1="288.6" x2="81" y2="290.2" stroke="#aaaaaa" stroke-width="0.6"/>
<line x1="104.45" y1="390.3" x2="104.45" y2="388.7" stroke="#aaaaaa" stroke-width="0.6"/>
<line x1="104.45" y1="288.6" x2="104.45" y2="290.2" stroke="#aaaaaa" stroke-width="0.6"/>
<line x1="127.9" y1="390.3" x2="127.9" y2="388.7" stroke="#aaaaaa" stroke-width="0.6"/>
<line x1="127.9" y1="288.6" x2="127.9" y2="290.2" stroke="#aaaaaa" stroke-width="0.6"/>
<line x1="151.35" y1="390.3" x2="151.35" y2="388.7" stroke="#aaaaaa" stroke-width="0.6"/>
<line x1="151.35" y1="288.6" x2="151.35" y2="290.2" stroke="#aaaaaa" stroke-width="0.6"/>
<line x1="174.8" y1="390.3" x2="174.8" y2="388.7" stroke="#aaaaaa" stroke-width="0.6"/>
<line x1="174.8" y1="288.6" x2="174.8" y2="290.2" stroke="#aaaaaa" stroke-width="0.6"/>
<line x1="198.25" y1="390.3" x2="198.25" y2="388.7" stroke="#aaaaaa" stroke-width="0.6"/>
<line x1="198.25" y1="288.6" x2="198.25" y2="290.2" stroke="#aaaaaa" stroke-width="0.6"/>
<line x1="221.7" y1="390.3" x2="221.7" y2="388.7" stroke="#aaaaaa" stroke-width="0.6"/>
<line x1="221.7" y1="288.6" x2="221.7" y2="290.2" stroke="#aaaaaa" stroke-width="0.6"/>
<line x1="34.1" y1="388.3" x2="35.7" y2="388.3" stroke="#aaaaaa" stroke-width="0.6"/>
<line x1="226.5" y1="388.3" x2="224.9" y2="388.3" stroke="#aaaaaa" stroke-width="0.6"/>
<line x1="34.1" y1="368.36" x2="35.7" y2="368.36" stroke="#aaaaaa" stroke-width="0.6"/>
<line x1="226.5" y1="368.36" x2="224.9" y2="368.36" stroke="#aaaaaa" stroke-width="0.6"/>
<line x1="34.1" y1="348.42" x2="35.7" y2="348.42" stroke="#aaaaaa" stroke-width="0.6"/>
<line x1="226.5" y1="348.42" x2="224.9" y2="348.42" stroke="#aaaaaa" stroke-width="0.6"/>
<line x1="34.1" y1="328.48" x2="35.7" y2="328.48" stroke="#aaaaaa" stroke-width="0.6"/>
<line x1="226.5" y1="328.48" x2="224.9" y2="328.48" stroke="#aaaaaa" stroke-width="0.6"/>
<line x1="34.1" y1="308.54" x2="35.7" y2="308.54" stroke="#aaaaaa" stroke-width="0.6"/>
<line x1="226.5" y1="308.54" x2="224.9" y2="308.54" stroke="#aaaaaa" stroke-width="0.6"/>
<line x1="34.1" y1="288.6" x2="35.7" y2="288.6" stroke="#aaaaaa" stroke-width="0.6"/>
<line x1="226.5" y1="288.6" x2="224.9" y2="288.6" stroke="#aaaaaa" stroke-width="0.6"/>
<text x="31.9" y="391.3" font-size="6.6" text-anchor="end" fill="#333333" color="#333333">0</text>
<text x="31.9" y="371.36" font-size="6.6" text-anchor="end" fill="#333333" color="#333333">2</text>
<text x="31.9" y="351.42" font-size="6.6" text-anchor="end" fill="#333333" color="#333333">4</text>
<text x="31.9" y="331.48" font-size="6.6" text-anchor="end" fill="#333333" color="#333333">6</text>
<text x="31.9" y="311.54" font-size="6.6" text-anchor="end" fill="#333333" color="#333333">8</text>
<text x="31.9" y="291.6" font-size="6.6" text-anchor="end" fill="#333333" color="#333333">10</text>
<text x="34.1" y="399.75" font-size="6.6" text-anchor="middle" fill="#333333" color="#333333">0</text>
<text x="57.55" y="399.75" font-size="6.6" text-anchor="middle" fill="#333333" color="#333333">500</text>
<text x="81" y="399.75" font-size="6.6" text-anchor="middle" fill="#333333" color="#333333">1000</text>
<text x="104.45" y="399.75" font-size="6.6" text-anchor="middle" fill="#333333" color="#333333">1500</text>
<text x="127.9" y="399.75" font-size="6.6" text-anchor="middle" fill="#333333" color="#333333">2000</text>
<text x="151.35" y="399.75" font-size="6.6" text-anchor="middle" fill="#333333" color="#333333">2500</text>
<text x="174.8" y="399.75" font-size="6.6" text-anchor="middle" fill="#333333" color="#333333">3000</text>
<text x="198.25" y="399.75" font-size="6.6" text-anchor="middle" fill="#333333" color="#333333">3500</text>
<text x="221.7" y="399.75" font-size="6.6" text-anchor="middle" fill="#333333" color="#333333">4000</text>
<text x="130.3" y="408.9" font-size="7.1" text-anchor="middle" fill="#333333" color="#333333">cycles</text>
<text x="0" y="0" transform="translate(20.8,339.45) rotate(-90)" font-size="7.25" text-anchor="middle" fill="#333333" color="#333333">capacity loss / %</text>
<text x="179.7" y="298.6" font-size="8.7" fill="#333" style="stroke:#333;stroke-width:0.22px" textLength="42.1" lengthAdjust="spacingAndGlyphs">SOC 45-65%</text>
<line x1="282.52" y1="289.6" x2="282.52" y2="391" stroke="#efefef" stroke-width="0.7"/>
<line x1="305.85" y1="289.6" x2="305.85" y2="391" stroke="#efefef" stroke-width="0.7"/>
<line x1="329.18" y1="289.6" x2="329.18" y2="391" stroke="#efefef" stroke-width="0.7"/>
<line x1="352.5" y1="289.6" x2="352.5" y2="391" stroke="#efefef" stroke-width="0.7"/>
<line x1="375.82" y1="289.6" x2="375.82" y2="391" stroke="#efefef" stroke-width="0.7"/>
<line x1="399.15" y1="289.6" x2="399.15" y2="391" stroke="#efefef" stroke-width="0.7"/>
<line x1="422.48" y1="289.6" x2="422.48" y2="391" stroke="#efefef" stroke-width="0.7"/>
<line x1="445.8" y1="289.6" x2="445.8" y2="391" stroke="#efefef" stroke-width="0.7"/>
<line x1="259.2" y1="369.36" x2="450.3" y2="369.36" stroke="#efefef" stroke-width="0.7"/>
<line x1="259.2" y1="349.42" x2="450.3" y2="349.42" stroke="#efefef" stroke-width="0.7"/>
<line x1="259.2" y1="329.48" x2="450.3" y2="329.48" stroke="#efefef" stroke-width="0.7"/>
<line x1="259.2" y1="309.54" x2="450.3" y2="309.54" stroke="#efefef" stroke-width="0.7"/>
<polyline points="259.2,389.3 329.18,388.6 352.5,385.91 375.82,383.32 399.15,380.93 422.48,379.53 445.8,377.83" fill="none" stroke="#bcd9a2" stroke-width="0.65" stroke-dasharray="4.2 2.4" stroke-opacity="1.0"/>
<polyline points="259.2,389.3 329.18,361.88 352.5,355.3 375.82,351.31 399.15,350.52 422.48,345.83 445.8,346.73" fill="none" stroke="#b4bdf0" stroke-width="0.65" stroke-dasharray="4.2 2.4" stroke-opacity="1.0"/>
<polyline points="259.2,389.3 329.18,346.73 352.5,337.95 375.82,331.47 399.15,324 422.48,318.01 445.8,317.52" fill="none" stroke="#333" stroke-width="1.25" stroke-dasharray="4.2 2.4" stroke-opacity="0.72"/>
<polyline points="259.2,389.3 329.18,345.83 352.5,336.76 375.82,331.08 399.15,323.7 422.48,317.82 445.8,317.32" fill="none" stroke="#ff5050" stroke-width="1.25" stroke-dasharray="4.2 2.4" stroke-opacity="0.6"/>
<path d="M259.2,385.8L262,389.3L259.2,392.8L256.4,389.3Z" stroke="#9cc874" stroke-width="0.65" fill="none"/>
<path d="M329.18,385.1L331.98,388.6L329.18,392.1L326.38,388.6Z" stroke="#9cc874" stroke-width="0.65" fill="none"/>
<path d="M352.5,382.41L355.3,385.91L352.5,389.41L349.7,385.91Z" stroke="#9cc874" stroke-width="0.65" fill="none"/>
<path d="M375.82,379.82L378.62,383.32L375.82,386.82L373.02,383.32Z" stroke="#9cc874" stroke-width="0.65" fill="none"/>
<path d="M399.15,377.43L401.95,380.93L399.15,384.43L396.35,380.93Z" stroke="#9cc874" stroke-width="0.65" fill="none"/>
<path d="M422.48,376.03L425.28,379.53L422.48,383.03L419.68,379.53Z" stroke="#9cc874" stroke-width="0.65" fill="none"/>
<path d="M445.8,374.33L448.6,377.83L445.8,381.33L443,377.83Z" stroke="#9cc874" stroke-width="0.65" fill="none"/>
<rect x="256.9" y="387" width="4.6" height="4.6" stroke="#8e9ce6" stroke-width="0.65" fill="none"/>
<rect x="326.88" y="359.58" width="4.6" height="4.6" stroke="#8e9ce6" stroke-width="0.65" fill="none"/>
<rect x="350.2" y="353" width="4.6" height="4.6" stroke="#8e9ce6" stroke-width="0.65" fill="none"/>
<rect x="373.52" y="349.01" width="4.6" height="4.6" stroke="#8e9ce6" stroke-width="0.65" fill="none"/>
<rect x="396.85" y="348.22" width="4.6" height="4.6" stroke="#8e9ce6" stroke-width="0.65" fill="none"/>
<rect x="420.18" y="343.53" width="4.6" height="4.6" stroke="#8e9ce6" stroke-width="0.65" fill="none"/>
<rect x="443.5" y="344.43" width="4.6" height="4.6" stroke="#8e9ce6" stroke-width="0.65" fill="none"/>
<circle cx="259.2" cy="389.3" r="2.55" stroke="#f25a5a" stroke-width="0.95" fill="none"/>
<circle cx="329.18" cy="345.83" r="2.55" stroke="#f25a5a" stroke-width="0.95" fill="none"/>
<circle cx="352.5" cy="336.76" r="2.55" stroke="#f25a5a" stroke-width="0.95" fill="none"/>
<circle cx="375.82" cy="331.08" r="2.55" stroke="#f25a5a" stroke-width="0.95" fill="none"/>
<circle cx="399.15" cy="323.7" r="2.55" stroke="#f25a5a" stroke-width="0.95" fill="none"/>
<circle cx="422.48" cy="317.82" r="2.55" stroke="#f25a5a" stroke-width="0.95" fill="none"/>
<circle cx="445.8" cy="317.32" r="2.55" stroke="#f25a5a" stroke-width="0.95" fill="none"/>
<path d="M257.65,387.75L260.75,390.85M257.65,390.85L260.75,387.75" stroke="#4a1c1c" stroke-width="0.95" fill="none"/>
<path d="M327.62,345.18L330.73,348.28M327.62,348.28L330.73,345.18" stroke="#4a1c1c" stroke-width="0.95" fill="none"/>
<path d="M350.95,336.4L354.05,339.5M350.95,339.5L354.05,336.4" stroke="#4a1c1c" stroke-width="0.95" fill="none"/>
<path d="M374.27,329.92L377.38,333.02M374.27,333.02L377.38,329.92" stroke="#4a1c1c" stroke-width="0.95" fill="none"/>
<path d="M397.6,322.45L400.7,325.55M397.6,325.55L400.7,322.45" stroke="#4a1c1c" stroke-width="0.95" fill="none"/>
<path d="M420.93,316.46L424.03,319.56M420.93,319.56L424.03,316.46" stroke="#4a1c1c" stroke-width="0.95" fill="none"/>
<path d="M444.25,315.97L447.35,319.07M444.25,319.07L447.35,315.97" stroke="#4a1c1c" stroke-width="0.95" fill="none"/>
<rect x="259.2" y="289.6" width="191.1" height="101.4" fill="none" stroke="#c4c4c4" stroke-width="1.3"/>
<line x1="259.2" y1="391" x2="259.2" y2="389.4" stroke="#aaaaaa" stroke-width="0.6"/>
<line x1="259.2" y1="289.6" x2="259.2" y2="291.2" stroke="#aaaaaa" stroke-width="0.6"/>
<line x1="282.52" y1="391" x2="282.52" y2="389.4" stroke="#aaaaaa" stroke-width="0.6"/>
<line x1="282.52" y1="289.6" x2="282.52" y2="291.2" stroke="#aaaaaa" stroke-width="0.6"/>
<line x1="305.85" y1="391" x2="305.85" y2="389.4" stroke="#aaaaaa" stroke-width="0.6"/>
<line x1="305.85" y1="289.6" x2="305.85" y2="291.2" stroke="#aaaaaa" stroke-width="0.6"/>
<line x1="329.18" y1="391" x2="329.18" y2="389.4" stroke="#aaaaaa" stroke-width="0.6"/>
<line x1="329.18" y1="289.6" x2="329.18" y2="291.2" stroke="#aaaaaa" stroke-width="0.6"/>
<line x1="352.5" y1="391" x2="352.5" y2="389.4" stroke="#aaaaaa" stroke-width="0.6"/>
<line x1="352.5" y1="289.6" x2="352.5" y2="291.2" stroke="#aaaaaa" stroke-width="0.6"/>
<line x1="375.82" y1="391" x2="375.82" y2="389.4" stroke="#aaaaaa" stroke-width="0.6"/>
<line x1="375.82" y1="289.6" x2="375.82" y2="291.2" stroke="#aaaaaa" stroke-width="0.6"/>
<line x1="399.15" y1="391" x2="399.15" y2="389.4" stroke="#aaaaaa" stroke-width="0.6"/>
<line x1="399.15" y1="289.6" x2="399.15" y2="291.2" stroke="#aaaaaa" stroke-width="0.6"/>
<line x1="422.48" y1="391" x2="422.48" y2="389.4" stroke="#aaaaaa" stroke-width="0.6"/>
<line x1="422.48" y1="289.6" x2="422.48" y2="291.2" stroke="#aaaaaa" stroke-width="0.6"/>
<line x1="445.8" y1="391" x2="445.8" y2="389.4" stroke="#aaaaaa" stroke-width="0.6"/>
<line x1="445.8" y1="289.6" x2="445.8" y2="291.2" stroke="#aaaaaa" stroke-width="0.6"/>
<line x1="259.2" y1="389.3" x2="260.8" y2="389.3" stroke="#aaaaaa" stroke-width="0.6"/>
<line x1="450.3" y1="389.3" x2="448.7" y2="389.3" stroke="#aaaaaa" stroke-width="0.6"/>
<line x1="259.2" y1="369.36" x2="260.8" y2="369.36" stroke="#aaaaaa" stroke-width="0.6"/>
<line x1="450.3" y1="369.36" x2="448.7" y2="369.36" stroke="#aaaaaa" stroke-width="0.6"/>
<line x1="259.2" y1="349.42" x2="260.8" y2="349.42" stroke="#aaaaaa" stroke-width="0.6"/>
<line x1="450.3" y1="349.42" x2="448.7" y2="349.42" stroke="#aaaaaa" stroke-width="0.6"/>
<line x1="259.2" y1="329.48" x2="260.8" y2="329.48" stroke="#aaaaaa" stroke-width="0.6"/>
<line x1="450.3" y1="329.48" x2="448.7" y2="329.48" stroke="#aaaaaa" stroke-width="0.6"/>
<line x1="259.2" y1="309.54" x2="260.8" y2="309.54" stroke="#aaaaaa" stroke-width="0.6"/>
<line x1="450.3" y1="309.54" x2="448.7" y2="309.54" stroke="#aaaaaa" stroke-width="0.6"/>
<line x1="259.2" y1="289.6" x2="260.8" y2="289.6" stroke="#aaaaaa" stroke-width="0.6"/>
<line x1="450.3" y1="289.6" x2="448.7" y2="289.6" stroke="#aaaaaa" stroke-width="0.6"/>
<text x="257" y="392.3" font-size="6.6" text-anchor="end" fill="#333333" color="#333333">0</text>
<text x="257" y="372.36" font-size="6.6" text-anchor="end" fill="#333333" color="#333333">2</text>
<text x="257" y="352.42" font-size="6.6" text-anchor="end" fill="#333333" color="#333333">4</text>
<text x="257" y="332.48" font-size="6.6" text-anchor="end" fill="#333333" color="#333333">6</text>
<text x="257" y="312.54" font-size="6.6" text-anchor="end" fill="#333333" color="#333333">8</text>
<text x="257" y="292.6" font-size="6.6" text-anchor="end" fill="#333333" color="#333333">10</text>
<text x="259.2" y="400.45" font-size="6.6" text-anchor="middle" fill="#333333" color="#333333">0</text>
<text x="282.52" y="400.45" font-size="6.6" text-anchor="middle" fill="#333333" color="#333333">500</text>
<text x="305.85" y="400.45" font-size="6.6" text-anchor="middle" fill="#333333" color="#333333">1000</text>
<text x="329.18" y="400.45" font-size="6.6" text-anchor="middle" fill="#333333" color="#333333">1500</text>
<text x="352.5" y="400.45" font-size="6.6" text-anchor="middle" fill="#333333" color="#333333">2000</text>
<text x="375.82" y="400.45" font-size="6.6" text-anchor="middle" fill="#333333" color="#333333">2500</text>
<text x="399.15" y="400.45" font-size="6.6" text-anchor="middle" fill="#333333" color="#333333">3000</text>
<text x="422.48" y="400.45" font-size="6.6" text-anchor="middle" fill="#333333" color="#333333">3500</text>
<text x="445.8" y="400.45" font-size="6.6" text-anchor="middle" fill="#333333" color="#333333">4000</text>
<text x="354.75" y="409.6" font-size="7.1" text-anchor="middle" fill="#333333" color="#333333">cycles</text>
<text x="0" y="0" transform="translate(246,340.8) rotate(-90)" font-size="7.25" text-anchor="middle" fill="#333333" color="#333333">capacity loss / %</text>
<text x="404.7" y="299.6" font-size="8.7" fill="#333" style="stroke:#333;stroke-width:0.22px" textLength="42.1" lengthAdjust="spacingAndGlyphs">SOC 65-85%</text>
<line x1="57.53" y1="421" x2="57.53" y2="523" stroke="#efefef" stroke-width="0.7"/>
<line x1="80.95" y1="421" x2="80.95" y2="523" stroke="#efefef" stroke-width="0.7"/>
<line x1="104.38" y1="421" x2="104.38" y2="523" stroke="#efefef" stroke-width="0.7"/>
<line x1="127.8" y1="421" x2="127.8" y2="523" stroke="#efefef" stroke-width="0.7"/>
<line x1="151.22" y1="421" x2="151.22" y2="523" stroke="#efefef" stroke-width="0.7"/>
<line x1="174.65" y1="421" x2="174.65" y2="523" stroke="#efefef" stroke-width="0.7"/>
<line x1="198.08" y1="421" x2="198.08" y2="523" stroke="#efefef" stroke-width="0.7"/>
<line x1="221.5" y1="421" x2="221.5" y2="523" stroke="#efefef" stroke-width="0.7"/>
<line x1="34.1" y1="501.08" x2="226.5" y2="501.08" stroke="#efefef" stroke-width="0.7"/>
<line x1="34.1" y1="481.06" x2="226.5" y2="481.06" stroke="#efefef" stroke-width="0.7"/>
<line x1="34.1" y1="461.04" x2="226.5" y2="461.04" stroke="#efefef" stroke-width="0.7"/>
<line x1="34.1" y1="441.02" x2="226.5" y2="441.02" stroke="#efefef" stroke-width="0.7"/>
<polyline points="34.1,521.1 104.38,520.6 127.8,518.3 151.22,514.49 174.65,512.99 198.08,509.29 221.5,510.29" fill="none" stroke="#bcd9a2" stroke-width="0.65" stroke-dasharray="4.2 2.4" stroke-opacity="1.0"/>
<polyline points="34.1,521.1 104.38,500.18 127.8,492.57 151.22,488.47 174.65,487.27 198.08,481.56 221.5,485.06" fill="none" stroke="#b4bdf0" stroke-width="0.65" stroke-dasharray="4.2 2.4" stroke-opacity="1.0"/>
<polyline points="34.1,521.1 104.38,483.96 127.8,477.96 151.22,470.05 174.65,464.84 198.08,458.54 221.5,458.84" fill="none" stroke="#333" stroke-width="1.25" stroke-dasharray="4.2 2.4" stroke-opacity="0.72"/>
<polyline points="34.1,521.1 104.38,482.76 127.8,476.76 151.22,469.15 174.65,464.34 198.08,458.24 221.5,458.54" fill="none" stroke="#ff5050" stroke-width="1.25" stroke-dasharray="4.2 2.4" stroke-opacity="0.6"/>
<path d="M34.1,517.6L36.9,521.1L34.1,524.6L31.3,521.1Z" stroke="#9cc874" stroke-width="0.65" fill="none"/>
<path d="M104.38,517.1L107.17,520.6L104.38,524.1L101.58,520.6Z" stroke="#9cc874" stroke-width="0.65" fill="none"/>
<path d="M127.8,514.8L130.6,518.3L127.8,521.8L125,518.3Z" stroke="#9cc874" stroke-width="0.65" fill="none"/>
<path d="M151.22,510.99L154.03,514.49L151.22,517.99L148.42,514.49Z" stroke="#9cc874" stroke-width="0.65" fill="none"/>
<path d="M174.65,509.49L177.45,512.99L174.65,516.49L171.85,512.99Z" stroke="#9cc874" stroke-width="0.65" fill="none"/>
<path d="M198.08,505.79L200.88,509.29L198.08,512.79L195.28,509.29Z" stroke="#9cc874" stroke-width="0.65" fill="none"/>
<path d="M221.5,506.79L224.3,510.29L221.5,513.79L218.7,510.29Z" stroke="#9cc874" stroke-width="0.65" fill="none"/>
<rect x="31.8" y="518.8" width="4.6" height="4.6" stroke="#8e9ce6" stroke-width="0.65" fill="none"/>
<rect x="102.08" y="497.88" width="4.6" height="4.6" stroke="#8e9ce6" stroke-width="0.65" fill="none"/>
<rect x="125.5" y="490.27" width="4.6" height="4.6" stroke="#8e9ce6" stroke-width="0.65" fill="none"/>
<rect x="148.92" y="486.17" width="4.6" height="4.6" stroke="#8e9ce6" stroke-width="0.65" fill="none"/>
<rect x="172.35" y="484.97" width="4.6" height="4.6" stroke="#8e9ce6" stroke-width="0.65" fill="none"/>
<rect x="195.78" y="479.26" width="4.6" height="4.6" stroke="#8e9ce6" stroke-width="0.65" fill="none"/>
<rect x="219.2" y="482.76" width="4.6" height="4.6" stroke="#8e9ce6" stroke-width="0.65" fill="none"/>
<circle cx="34.1" cy="521.1" r="2.55" stroke="#f25a5a" stroke-width="0.95" fill="none"/>
<circle cx="104.38" cy="482.76" r="2.55" stroke="#f25a5a" stroke-width="0.95" fill="none"/>
<circle cx="127.8" cy="476.76" r="2.55" stroke="#f25a5a" stroke-width="0.95" fill="none"/>
<circle cx="151.22" cy="469.15" r="2.55" stroke="#f25a5a" stroke-width="0.95" fill="none"/>
<circle cx="174.65" cy="464.34" r="2.55" stroke="#f25a5a" stroke-width="0.95" fill="none"/>
<circle cx="198.08" cy="458.24" r="2.55" stroke="#f25a5a" stroke-width="0.95" fill="none"/>
<circle cx="221.5" cy="458.54" r="2.55" stroke="#f25a5a" stroke-width="0.95" fill="none"/>
<path d="M32.55,519.55L35.65,522.65M32.55,522.65L35.65,519.55" stroke="#4a1c1c" stroke-width="0.95" fill="none"/>
<path d="M102.83,482.41L105.92,485.51M102.83,485.51L105.92,482.41" stroke="#4a1c1c" stroke-width="0.95" fill="none"/>
<path d="M126.25,476.41L129.35,479.51M126.25,479.51L129.35,476.41" stroke="#4a1c1c" stroke-width="0.95" fill="none"/>
<path d="M149.67,468.5L152.78,471.6M149.67,471.6L152.78,468.5" stroke="#4a1c1c" stroke-width="0.95" fill="none"/>
<path d="M173.1,463.29L176.2,466.39M173.1,466.39L176.2,463.29" stroke="#4a1c1c" stroke-width="0.95" fill="none"/>
<path d="M196.53,456.99L199.63,460.09M196.53,460.09L199.63,456.99" stroke="#4a1c1c" stroke-width="0.95" fill="none"/>
<path d="M219.95,457.29L223.05,460.39M219.95,460.39L223.05,457.29" stroke="#4a1c1c" stroke-width="0.95" fill="none"/>
<rect x="34.1" y="421" width="192.4" height="102" fill="none" stroke="#c4c4c4" stroke-width="1.3"/>
<line x1="34.1" y1="523" x2="34.1" y2="521.4" stroke="#aaaaaa" stroke-width="0.6"/>
<line x1="34.1" y1="421" x2="34.1" y2="422.6" stroke="#aaaaaa" stroke-width="0.6"/>
<line x1="57.53" y1="523" x2="57.53" y2="521.4" stroke="#aaaaaa" stroke-width="0.6"/>
<line x1="57.53" y1="421" x2="57.53" y2="422.6" stroke="#aaaaaa" stroke-width="0.6"/>
<line x1="80.95" y1="523" x2="80.95" y2="521.4" stroke="#aaaaaa" stroke-width="0.6"/>
<line x1="80.95" y1="421" x2="80.95" y2="422.6" stroke="#aaaaaa" stroke-width="0.6"/>
<line x1="104.38" y1="523" x2="104.38" y2="521.4" stroke="#aaaaaa" stroke-width="0.6"/>
<line x1="104.38" y1="421" x2="104.38" y2="422.6" stroke="#aaaaaa" stroke-width="0.6"/>
<line x1="127.8" y1="523" x2="127.8" y2="521.4" stroke="#aaaaaa" stroke-width="0.6"/>
<line x1="127.8" y1="421" x2="127.8" y2="422.6" stroke="#aaaaaa" stroke-width="0.6"/>
<line x1="151.22" y1="523" x2="151.22" y2="521.4" stroke="#aaaaaa" stroke-width="0.6"/>
<line x1="151.22" y1="421" x2="151.22" y2="422.6" stroke="#aaaaaa" stroke-width="0.6"/>
<line x1="174.65" y1="523" x2="174.65" y2="521.4" stroke="#aaaaaa" stroke-width="0.6"/>
<line x1="174.65" y1="421" x2="174.65" y2="422.6" stroke="#aaaaaa" stroke-width="0.6"/>
<line x1="198.08" y1="523" x2="198.08" y2="521.4" stroke="#aaaaaa" stroke-width="0.6"/>
<line x1="198.08" y1="421" x2="198.08" y2="422.6" stroke="#aaaaaa" stroke-width="0.6"/>
<line x1="221.5" y1="523" x2="221.5" y2="521.4" stroke="#aaaaaa" stroke-width="0.6"/>
<line x1="221.5" y1="421" x2="221.5" y2="422.6" stroke="#aaaaaa" stroke-width="0.6"/>
<line x1="34.1" y1="521.1" x2="35.7" y2="521.1" stroke="#aaaaaa" stroke-width="0.6"/>
<line x1="226.5" y1="521.1" x2="224.9" y2="521.1" stroke="#aaaaaa" stroke-width="0.6"/>
<line x1="34.1" y1="501.08" x2="35.7" y2="501.08" stroke="#aaaaaa" stroke-width="0.6"/>
<line x1="226.5" y1="501.08" x2="224.9" y2="501.08" stroke="#aaaaaa" stroke-width="0.6"/>
<line x1="34.1" y1="481.06" x2="35.7" y2="481.06" stroke="#aaaaaa" stroke-width="0.6"/>
<line x1="226.5" y1="481.06" x2="224.9" y2="481.06" stroke="#aaaaaa" stroke-width="0.6"/>
<line x1="34.1" y1="461.04" x2="35.7" y2="461.04" stroke="#aaaaaa" stroke-width="0.6"/>
<line x1="226.5" y1="461.04" x2="224.9" y2="461.04" stroke="#aaaaaa" stroke-width="0.6"/>
<line x1="34.1" y1="441.02" x2="35.7" y2="441.02" stroke="#aaaaaa" stroke-width="0.6"/>
<line x1="226.5" y1="441.02" x2="224.9" y2="441.02" stroke="#aaaaaa" stroke-width="0.6"/>
<line x1="34.1" y1="421" x2="35.7" y2="421" stroke="#aaaaaa" stroke-width="0.6"/>
<line x1="226.5" y1="421" x2="224.9" y2="421" stroke="#aaaaaa" stroke-width="0.6"/>
<text x="31.9" y="524.1" font-size="6.6" text-anchor="end" fill="#333333" color="#333333">0</text>
<text x="31.9" y="504.08" font-size="6.6" text-anchor="end" fill="#333333" color="#333333">2</text>
<text x="31.9" y="484.06" font-size="6.6" text-anchor="end" fill="#333333" color="#333333">4</text>
<text x="31.9" y="464.04" font-size="6.6" text-anchor="end" fill="#333333" color="#333333">6</text>
<text x="31.9" y="444.02" font-size="6.6" text-anchor="end" fill="#333333" color="#333333">8</text>
<text x="31.9" y="424" font-size="6.6" text-anchor="end" fill="#333333" color="#333333">10</text>
<text x="34.1" y="533.15" font-size="6.6" text-anchor="middle" fill="#333333" color="#333333">0</text>
<text x="57.53" y="533.15" font-size="6.6" text-anchor="middle" fill="#333333" color="#333333">500</text>
<text x="80.95" y="533.15" font-size="6.6" text-anchor="middle" fill="#333333" color="#333333">1000</text>
<text x="104.38" y="533.15" font-size="6.6" text-anchor="middle" fill="#333333" color="#333333">1500</text>
<text x="127.8" y="533.15" font-size="6.6" text-anchor="middle" fill="#333333" color="#333333">2000</text>
<text x="151.22" y="533.15" font-size="6.6" text-anchor="middle" fill="#333333" color="#333333">2500</text>
<text x="174.65" y="533.15" font-size="6.6" text-anchor="middle" fill="#333333" color="#333333">3000</text>
<text x="198.08" y="533.15" font-size="6.6" text-anchor="middle" fill="#333333" color="#333333">3500</text>
<text x="221.5" y="533.15" font-size="6.6" text-anchor="middle" fill="#333333" color="#333333">4000</text>
<text x="130.3" y="541.6" font-size="7.1" text-anchor="middle" fill="#333333" color="#333333">cycles</text>
<text x="0" y="0" transform="translate(20.5,472.5) rotate(-90)" font-size="7.25" text-anchor="middle" fill="#333333" color="#333333">capacity loss / %</text>
<text x="179.7" y="431.5" font-size="8.7" fill="#333" style="stroke:#333;stroke-width:0.22px" textLength="42.1" lengthAdjust="spacingAndGlyphs">SOC 75-95%</text>
<text x="11.6" y="155.2" font-size="7.8" fill="#222" color="#222">c)</text>
<text x="238.2" y="156.2" font-size="7.8" fill="#222" color="#222">d)</text>
<text x="11.6" y="288.6" font-size="7.8" fill="#222" color="#222">e)</text>
<text x="238.2" y="287.2" font-size="7.8" fill="#222" color="#222">f)</text>
<text x="11.6" y="419" font-size="7.8" fill="#222" color="#222">g)</text>
<rect x="259.5" y="421.7" width="141.4" height="46.7" fill="#fff" stroke="#a8a8a8" stroke-width="0.8"/>
<line x1="263.9" y1="428.4" x2="268.8" y2="428.4" stroke="#111" stroke-width="1.0"/>
<line x1="280.2" y1="428.4" x2="284.6" y2="428.4" stroke="#111" stroke-width="1.0"/>
<line x1="271.4" y1="428.4" x2="277.4" y2="428.4" stroke="#111" stroke-width="0.9"/>
<path d="M271.5,425.5L277.3,431.3M271.5,431.3L277.3,425.5" stroke="#111" stroke-width="1.0" fill="none"/>
<text x="286.6" y="431.4" font-size="8.24" fill="#2e2e2e" style="stroke:none">full cell capacity loss</text>
<line x1="263.9" y1="439.8" x2="268.8" y2="439.8" stroke="#ff5050" stroke-width="0.8"/>
<line x1="280.2" y1="439.8" x2="284.6" y2="439.8" stroke="#ff5050" stroke-width="0.8"/>
<line x1="271.2" y1="439.8" x2="277.6" y2="439.8" stroke="#ff5050" stroke-width="0.8"/>
<circle cx="274.4" cy="439.8" r="3.3" stroke="#ff5050" stroke-width="0.9" fill="none"/>
<text x="286.6" y="442.7" font-size="8.24" fill="#2e2e2e" style="stroke:none">loss of active lithium</text>
<line x1="263.9" y1="450.6" x2="268.8" y2="450.6" stroke="#9aa6ea" stroke-width="0.8"/>
<line x1="280.2" y1="450.6" x2="284.6" y2="450.6" stroke="#9aa6ea" stroke-width="0.8"/>
<line x1="271.4" y1="450.6" x2="277.4" y2="450.6" stroke="#9aa6ea" stroke-width="0.8"/>
<rect x="271.4" y="447.6" width="6" height="6" stroke="#9aa6ea" stroke-width="0.8" fill="none"/>
<text x="286.6" y="453.9" font-size="8.24" fill="#2e2e2e" style="stroke:none">loss of active anode material</text>
<line x1="263.9" y1="461.8" x2="268.8" y2="461.8" stroke="#a8d080" stroke-width="0.8"/>
<line x1="280.2" y1="461.8" x2="284.6" y2="461.8" stroke="#a8d080" stroke-width="0.8"/>
<line x1="270.9" y1="461.8" x2="277.9" y2="461.8" stroke="#a8d080" stroke-width="0.8"/>
<path d="M274.4,457.2L278,461.8L274.4,466.4L270.8,461.8Z" stroke="#a8d080" stroke-width="0.8" fill="none"/>
<text x="286.6" y="465" font-size="8.24" fill="#2e2e2e" style="stroke:none">loss of active cathode material</text>
</svg>
</body></html>
